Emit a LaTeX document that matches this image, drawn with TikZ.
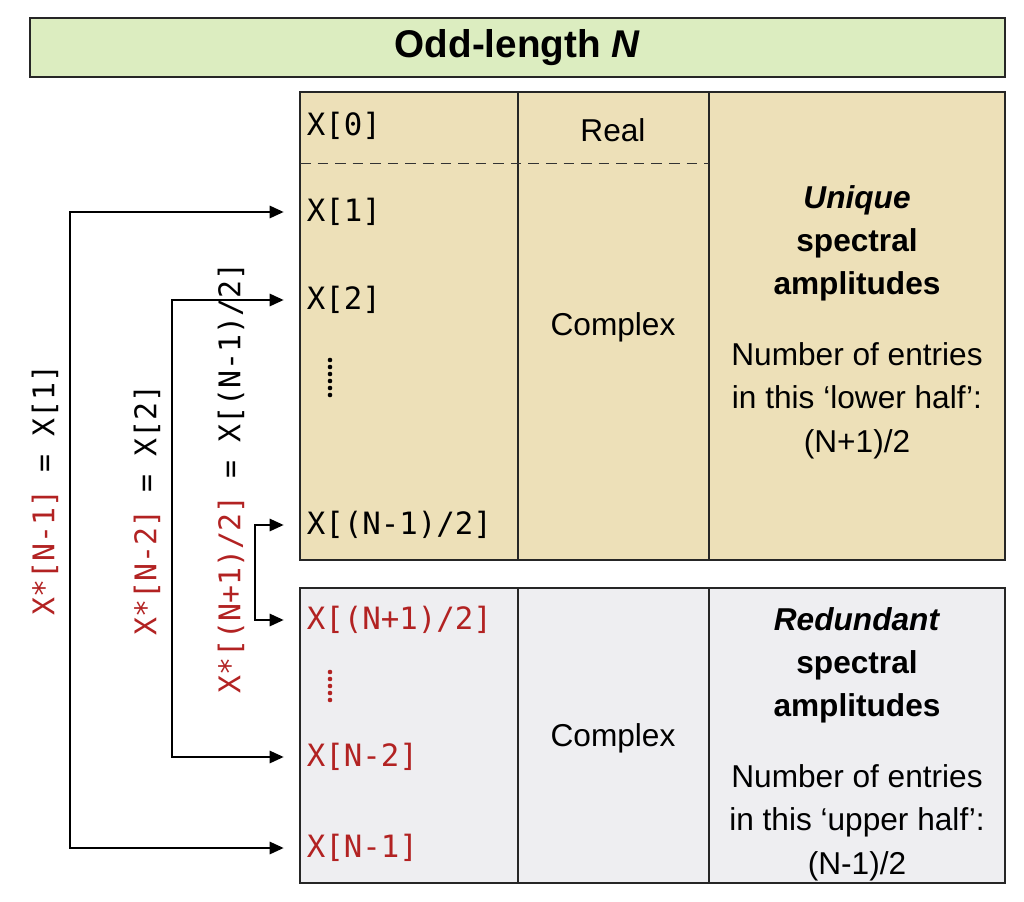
\documentclass[tikz,border=0pt]{standalone}
\usepackage{fontspec}
\setmainfont{Liberation Sans}
\setmonofont{DejaVu Sans Mono}
\usetikzlibrary{arrows.meta,positioning}
\definecolor{titlegreen}{HTML}{DCEDC0}
\definecolor{lowertan}{HTML}{EDE0B8}
\definecolor{uppergray}{HTML}{EEEEF1}
\definecolor{redx}{HTML}{B22222}
\tikzset{
  box/.style={draw=black!85, line width=0.8pt},
  lbl/.style={font=\fontsize{18}{24.5}\selectfont, align=center},
  idx/.style={font=\fontsize{17.5}{21}\selectfont\ttfamily, anchor=west, inner sep=2pt},
  rot/.style={rotate=90, font=\fontsize{17}{21}\selectfont\ttfamily},
  link/.style={{Triangle[length=8pt,width=7pt]}-{Triangle[length=8pt,width=7pt]}, line width=1.2pt},
}
\begin{document}
\begin{tikzpicture}[x=0.02cm, y=-0.02cm]
  \useasboundingbox (0,0) rectangle (1024,902);
  % title
  \node[box, fill=titlegreen, minimum width=19.5cm, minimum height=1.18cm] (title) at (517.5,47.5)
    {\fontsize{22}{26}\selectfont\bfseries Odd-length \textit{N}};
  % boxes
  \filldraw[box, fill=lowertan] (300,92) rectangle (1005,560);
  \filldraw[box, fill=uppergray] (300,588) rectangle (1005,883);
  \draw[box] (518,92) -- (518,560) (709,92) -- (709,560);
  \draw[box] (518,588) -- (518,883) (709,588) -- (709,883);
  \draw[black!80, dash pattern=on 6pt off 4pt] (300,163) -- (709,163);
  % lower half entries
  \node[idx] (x0) at (303,126) {X[0]};
  \node[idx] (x1) at (303,212) {X[1]};
  \node[idx] (x2) at (303,300) {X[2]};
  \node[idx] (xm) at (303,525) {X[(N-1)/2]};
  \foreach \y in {360,367,...,395} \fill (330,\y) circle (1.3pt);
  \node[lbl] (real) at (613,130) {Real};
  \node[lbl] (cpxa) at (613,327) {Complex};
  \node[lbl] (uniq) at (857,322) {\textbf{\textit{Unique}}\\\textbf{spectral}\\\textbf{amplitudes}\\[0.9em]
    Number of entries\\in this `lower half':\\(N+1)/2};
  % upper half entries
  \begin{scope}[redx]
  \node[idx] (xp) at (303,620) {X[(N+1)/2]};
  \node[idx] (xn2) at (303,757) {X[N-2]};
  \node[idx] (xn1) at (303,848) {X[N-1]};
  \foreach \y in {672,679,...,700} \fill (330,\y) circle (1.3pt);
  \end{scope}
  \node[lbl] (cpxb) at (613,738) {Complex};
  \node[lbl] (redun) at (857,744) {\textbf{\textit{Redundant}}\\\textbf{spectral}\\\textbf{amplitudes}\\[0.9em]
    Number of entries\\in this `upper half':\\(N-1)/2};
  % symmetry links
  \draw[link] ([xshift=-11pt]x1.west) -| (70,530) |- ([xshift=-11pt]xn1.west);
  \draw[link] ([xshift=-11pt]x2.west) -| (172,530) |- ([xshift=-11pt]xn2.west);
  \draw[link] ([xshift=-11pt]xm.west) -| (255,570) |- ([xshift=-11pt]xp.west);
  \node[rot] (e1) at (45,490) {\textcolor{redx}{X*[N-1]} = X[1]};
  \node[rot] (e2) at (147,510) {\textcolor{redx}{X*[N-2]} = X[2]};
  \node[rot] (e3) at (231,478) {\textcolor{redx}{X*[(N+1)/2]} = X[(N-1)/2]};
\end{tikzpicture}
\end{document}
